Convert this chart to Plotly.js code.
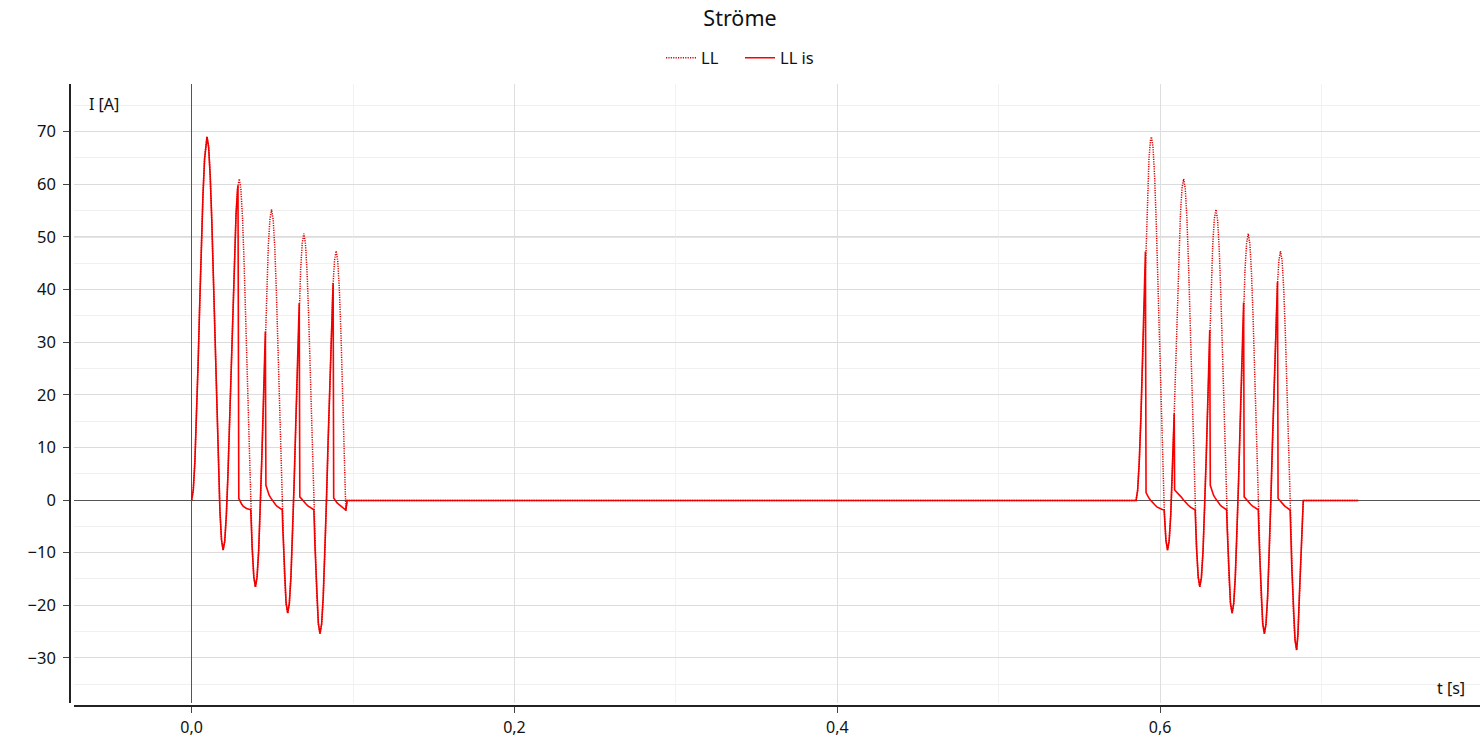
<!DOCTYPE html>
<html>
<head>
<meta charset="utf-8">
<script src="https://cdn.plot.ly/plotly-3.0.1.min.js"></script>
<style>
html,body{margin:0;padding:0;background:#fff;}
#chart{width:1480px;height:740px;}
</style>
</head>
<body>
<div id="chart"></div>
<script>
// ---- Data (time in ms, current in A) ----
const tLL_ms = [
  0,1,2,3,4,5,6,7,8,9,9.5,10.5,11.5,12.5,13.5,14.5,15.5,16.5,17.5,18.5,19.5,
  20.5,21.5,22.5,23.5,24.5,25.5,26.5,27.5,28.5,29.5,30.5,31.5,32.5,33.5,34.5,35.5,36.5,37.5,38.5,39.5,
  40.5,41.5,42.5,43.5,44.5,45.5,46.5,47.5,48.5,49.5,50.5,51.5,52.5,53.5,54.5,55.5,56.5,57.5,58.5,59.5,
  60.5,61.5,62.5,63.5,64.5,65.5,66.5,67.5,68.5,69.5,70.5,71.5,72.5,73.5,74.5,75.5,76.5,77.5,78.5,79.5,
  80.5,81.5,82.5,83.5,84.5,85.5,86.5,87.5,88.5,89.5,90.5,91.5,92.5,93.5,94.5,95.5,96.3,
  585.1,586.1,587.1,588.1,589.1,590.1,591.1,592.1,593.1,594.1,594.6,595.6,596.6,597.6,598.6,599.6,600.6,601.6,602.6,603.6,604.6,
  605.6,606.6,607.6,608.6,609.6,610.6,611.6,612.6,613.6,614.6,615.6,616.6,617.6,618.6,619.6,620.6,621.6,622.6,623.6,624.6,
  625.6,626.6,627.6,628.6,629.6,630.6,631.6,632.6,633.6,634.6,635.6,636.6,637.6,638.6,639.6,640.6,641.6,642.6,643.6,644.6,
  645.6,646.6,647.6,648.6,649.6,650.6,651.6,652.6,653.6,654.6,655.6,656.6,657.6,658.6,659.6,660.6,661.6,662.6,663.6,664.6,
  665.6,666.6,667.6,668.6,669.6,670.6,671.6,672.6,673.6,674.6,675.6,676.6,677.6,678.6,679.6,680.6,681.6,682.6,683.6,684.6,
  685.4,686.3,687.3,688.3,688.7,722.8
];
const iLL = [
  0,1.9,7.3,15.6,26.0,37.3,48.3,57.9,64.8,68.5,69.0,67.1,61.5,52.8,41.9,29.8,17.6,6.7,-2.0,-7.6,-9.5,
  -7.8,-2.8,5.0,14.9,25.8,36.6,46.5,54.3,59.3,61.0,59.1,53.6,45.0,34.2,22.3,10.3,-0.5,-9.1,-14.6,-16.5,
  -14.7,-9.7,-1.7,8.3,19.4,30.4,40.4,48.4,53.4,55.2,53.3,47.9,39.4,28.7,16.9,5.0,-5.7,-14.2,-19.6,-21.5,
  -19.7,-14.6,-6.6,3.4,14.6,25.7,35.7,43.7,48.8,50.6,48.7,43.3,34.9,24.3,12.6,0.9,-9.7,-18.1,-23.5,-25.4,
  -23.6,-18.5,-10.4,-0.3,11.0,22.2,32.3,40.4,45.5,47.3,45.4,40.1,31.7,21.1,9.4,-2.0,-0.1,
  -0.1,1.9,7.3,15.6,26.0,37.3,48.3,57.9,64.8,68.5,69.0,67.1,61.5,52.8,41.9,29.8,17.6,6.7,-2.0,-7.6,-9.5,
  -7.8,-2.8,5.0,14.9,25.8,36.6,46.5,54.3,59.3,61.0,59.1,53.6,45.0,34.2,22.3,10.3,-0.5,-9.1,-14.6,-16.5,
  -14.7,-9.7,-1.7,8.3,19.4,30.4,40.4,48.4,53.4,55.2,53.3,47.9,39.4,28.7,16.9,5.0,-5.7,-14.2,-19.6,-21.5,
  -19.7,-14.6,-6.6,3.4,14.6,25.7,35.7,43.7,48.8,50.6,48.7,43.3,34.9,24.3,12.6,0.9,-9.7,-18.1,-23.5,-25.4,
  -23.6,-18.5,-10.4,-0.3,11.0,22.2,32.3,40.4,45.5,47.3,45.4,40.1,31.7,21.1,9.4,-2.3,-12.9,-21.3,-26.6,-28.5,
  -25.5,-18.0,-9.0,-2.0,-0.1,-0.1
];

const tLLis_ms = [
  0,1,2,3,4,5,6,7,8,9,9.5,10.5,11.5,12.5,13.5,14.5,15.5,16.5,17.5,18.5,19.5,
  20.5,21.5,22.5,23.5,24.5,25.5,26.5,27.5,28.5,28.7,29.2,30,31,32,33,34,35,36,36.6,37.5,38.5,39.5,
  40.5,41.5,42.5,43.5,44.5,45.5,45.65,46,47,48,49,50,51,52,53,54,55,56.1,56.5,57.5,58.5,59.5,
  60.5,61.5,62.5,63.5,64.5,65.5,66.5,66.65,67,68,69,70,71,72,73,74,75,75.7,76.5,77.5,78.5,79.5,
  80.5,81.5,82.5,83.5,84.5,85.5,86.5,87.5,87.65,88,89,90,91,92,93,94,95,95.5,96.3,
  585.1,586.1,587.1,588.1,589.1,590.1,590.9,591.3,592,593,594,595,596,597,598,599,600,601,602.5,603.6,604.6,
  605.6,606.6,607.6,608.6,608.75,609,610,611.5,613,614.5,616,617.5,619,620.5,621.7,622.6,623.6,624.6,
  625.6,626.6,627.6,628.6,629.6,630.6,630.75,631.1,632.1,633.1,634.1,635.1,636.1,637.1,638.1,639.1,640.1,641.2,641.6,642.6,643.6,644.6,
  645.6,646.6,647.6,648.6,649.6,650.6,651.6,651.75,652.1,653.1,654.1,655.1,656.1,657.1,658.1,659.1,660.1,660.8,661.6,662.6,663.6,664.6,
  665.6,666.6,667.6,668.6,669.6,670.6,671.6,672.6,672.75,673.1,674.1,675.1,676.1,677.1,678.1,679.1,680.1,680.55,681.6,682.6,683.6,684.6,
  685.4,686.3,687.3,688.3,688.7,722.8
];
const iLLis = [
  0,1.9,7.3,15.6,26.0,37.3,48.3,57.9,64.8,68.5,69.0,67.1,61.5,52.8,41.9,29.8,17.6,6.7,-2.0,-7.6,-9.5,
  -7.8,-2.8,5.0,14.9,25.8,36.6,46.5,54.3,59.3,59.8,0.3,-0.3,-0.8,-1.2,-1.45,-1.6,-1.7,-1.8,-1.85,-9.1,-14.6,-16.5,
  -14.7,-9.7,-1.7,8.3,19.4,30.4,32.0,2.8,1.6,0.9,0.4,-0.1,-0.5,-0.9,-1.2,-1.45,-1.65,-1.85,-5.7,-14.2,-19.6,-21.5,
  -19.7,-14.6,-6.6,3.4,14.6,25.7,35.7,37.4,0.6,0.2,-0.2,-0.5,-0.8,-1.1,-1.35,-1.55,-1.7,-1.85,-9.7,-18.1,-23.5,-25.4,
  -23.6,-18.5,-10.4,-0.3,11.0,22.2,32.3,40.4,41.2,0.4,-0.1,-0.5,-0.8,-1.1,-1.35,-1.55,-1.75,-2.0,-0.1,
  -0.1,1.9,7.3,15.6,26.0,37.3,47.2,1.4,0.9,0.4,0.0,-0.4,-0.7,-1.0,-1.3,-1.5,-1.65,-1.75,-1.9,-7.6,-9.5,
  -7.8,-2.8,5.0,14.9,16.5,1.9,1.6,1.2,0.6,0.0,-0.6,-1.0,-1.4,-1.7,-1.85,-9.1,-14.6,-16.5,
  -14.7,-9.7,-1.7,8.3,19.4,30.4,32.3,2.8,1.6,0.9,0.4,-0.1,-0.5,-0.9,-1.2,-1.45,-1.65,-1.85,-5.7,-14.2,-19.6,-21.5,
  -19.7,-14.6,-6.6,3.4,14.6,25.7,35.7,37.5,0.6,0.2,-0.2,-0.5,-0.8,-1.1,-1.35,-1.55,-1.7,-1.85,-9.7,-18.1,-23.5,-25.4,
  -23.6,-18.5,-10.4,-0.3,11.0,22.2,32.3,40.4,41.4,0.3,-0.1,-0.5,-0.8,-1.1,-1.35,-1.55,-1.75,-1.9,-12.9,-21.3,-26.6,-28.5,
  -25.5,-18.0,-9.0,-2.0,-0.1,-0.1
];

const seriesNames = ['LL', 'LL is'];
const chartTitle = 'Ströme';
const yLabel = 'I [A]';
const xLabel = 't [s]';
const refLineY = 50;

const toSec = a => a.map(v => v / 1000);

const FONT = '"Noto Sans", "Open Sans", sans-serif';

const traces = [
  {
    x: toSec(tLLis_ms), y: iLLis, name: seriesNames[1], mode: 'lines',
    line: {color: '#ff0000', width: 1.6}, legendrank: 2
  },
  {
    x: toSec(tLL_ms), y: iLL, name: seriesNames[0], mode: 'lines',
    line: {color: '#e00000', width: 1.5, dash: '1.2px,1.2px'}, legendrank: 1
  }
];

const layout = {
  width: 1480, height: 740,
  margin: {l: 70, r: 0, t: 84, b: 34, pad: 0},
  paper_bgcolor: '#fff', plot_bgcolor: '#fff',
  separators: ',.',
  font: {family: FONT, size: 16, color: '#111'},
  title: {text: chartTitle, x: 0.5, xanchor: 'center', xref: 'container',
          y: 1 - 18/740, yref: 'container', yanchor: 'middle',
          font: {family: FONT, size: 21.5, color: '#111'}},
  showlegend: true,
  legend: {orientation: 'h', x: 0.5, xref: 'container', xanchor: 'center',
           y: 1 - 58/740, yref: 'container', yanchor: 'middle',
           font: {family: FONT, size: 16.5, color: '#111'},
           itemwidth: 30, entrywidth: 34, entrywidthmode: 'pixels', traceorder: 'normal'},
  xaxis: {
    domain: [4/1410, 1], anchor: 'free', position: 0,
    range: [-0.0729, 0.7982], tick0: 0, dtick: 0.2, tickformat: '.1f',
    showline: true, linecolor: '#222', linewidth: 1.5,
    ticks: 'outside', ticklen: 6, tickcolor: '#444', tickwidth: 1,
    ticklabelstandoff: 1,
    showgrid: true, gridcolor: '#dedede', gridwidth: 1,
    zeroline: true, zerolinecolor: '#555', zerolinewidth: 1,
    minor: {dtick: 0.1, showgrid: true, gridcolor: '#f2f2f2', gridwidth: 1},
    tickfont: {family: FONT, size: 16, color: '#111'},
    fixedrange: true
  },
  yaxis: {
    domain: [3/622, 1], anchor: 'free', position: 0,
    range: [-38.56, 79.03], tick0: 0, dtick: 10,
    showline: true, linecolor: '#222', linewidth: 1.5,
    ticks: 'outside', ticklen: 6, tickcolor: '#444', tickwidth: 1,
    ticklabelstandoff: 4,
    showgrid: true, gridcolor: '#dcdcdc', gridwidth: 1,
    zeroline: true, zerolinecolor: '#555', zerolinewidth: 1,
    minor: {dtick: 5, showgrid: true, gridcolor: '#f0f0f0', gridwidth: 1},
    tickfont: {family: FONT, size: 16.5, color: '#111'},
    fixedrange: true
  },
  shapes: [
    {type: 'line', xref: 'x domain', x0: 0, x1: 1, yref: 'y', y0: refLineY, y1: refLineY,
     line: {color: '#a8a8a8', width: 1}, layer: 'below'}
  ],
  annotations: [
    {text: yLabel, xref: 'paper', yref: 'paper', x: 17/1410, y: (706-104)/622,
     xanchor: 'left', yanchor: 'middle', showarrow: false,
     font: {family: FONT, size: 16, color: '#111'}},
    {text: xLabel, xref: 'paper', yref: 'paper', x: (1467-70)/1410, y: (706-688)/622,
     xanchor: 'right', yanchor: 'middle', showarrow: false,
     font: {family: FONT, size: 16, color: '#111'}}
  ]
};

Plotly.newPlot('chart', traces, layout, {displayModeBar: false, responsive: false});
</script>
</body>
</html>
